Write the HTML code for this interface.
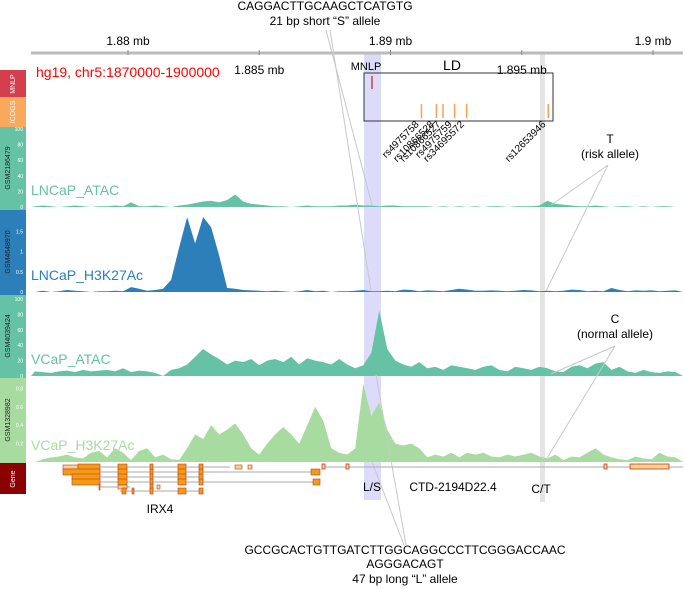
<!DOCTYPE html>
<html><head><meta charset="utf-8"><style>
body{margin:0;background:#fff}
svg{display:block;font-family:"Liberation Sans",sans-serif}
</style></head><body>
<svg id="c" width="685" height="589" viewBox="0 0 685 589">
<g>
<rect x="364" y="53" width="17" height="447" fill="#dcdcfa"/>
<rect x="540" y="53" width="5" height="449" fill="#e4e4e4"/>
</g>
<g id="axis">
<line x1="31" y1="53" x2="683" y2="53" stroke="#bbb" stroke-width="3"/>
</g>
<g>
<rect x="0" y="70" width="26" height="27" fill="#d43f4e"/>
<rect x="0" y="97" width="26" height="30" fill="#f9a85c"/>
<rect x="0" y="127" width="26" height="83" fill="#66c2a5"/>
<rect x="0" y="210" width="26" height="85" fill="#2c7fb8"/>
<rect x="0" y="295" width="26" height="83" fill="#66c2a5"/>
<rect x="0" y="378" width="26" height="85" fill="#a8dba0"/>
<rect x="0" y="463" width="26" height="31" fill="#8b0000"/>
<g font-size="7" text-anchor="middle">
<text transform="translate(15,84) rotate(-90)" fill="#fff">MNLP</text>
<text transform="translate(15,112) rotate(-90)" fill="#fff">ICOGS</text>
<text transform="translate(10,168) rotate(-90)" fill="#222">GSM2186479</text>
<text transform="translate(10,252) rotate(-90)" fill="#222">GSM4648970</text>
<text transform="translate(10,336) rotate(-90)" fill="#222">GSM4039424</text>
<text transform="translate(10,420) rotate(-90)" fill="#222">GSM1328982</text>
<text transform="translate(15,479) rotate(-90)" fill="#fff">Gene</text>
</g>
</g>
<g id="tracks"></g>
<text x="36" y="77" font-size="14" fill="#f00">hg19, chr5:1870000-1900000</text>
<g>
<rect x="364" y="73" width="189" height="48" fill="none" stroke="#333" stroke-width="1"/>
<text x="452" y="70" font-size="14" text-anchor="middle" fill="#000">LD</text>
<text x="366" y="70" font-size="11" text-anchor="middle" fill="#000">MNLP</text>
<line x1="372" y1="76" x2="372" y2="89" stroke="#c9697a" stroke-width="2"/>
</g>
<g id="snps"></g>
<g font-size="12" fill="#000">
<text x="325" y="10" text-anchor="middle">CAGGACTTGCAAGCTCATGTG</text>
<text x="325" y="25" text-anchor="middle">21 bp short “S” allele</text>
<text x="405" y="554" text-anchor="middle">GCCGCACTGTTGATCTTGGCAGGCCCTTCGGGACCAAC</text>
<text x="405" y="568" text-anchor="middle">AGGGACAGT</text>
<text x="405" y="583" text-anchor="middle">47 bp long “L” allele</text>
<text x="610" y="143" text-anchor="middle">T</text>
<text x="610" y="158" text-anchor="middle">(risk allele)</text>
<text x="615" y="323" text-anchor="middle">C</text>
<text x="615" y="338" text-anchor="middle">(normal allele)</text>
<text x="160" y="513" text-anchor="middle">IRX4</text>
<text x="372" y="491" text-anchor="middle">L/S</text>
<text x="453" y="491" text-anchor="middle">CTD-2194D22.4</text>
<text x="541" y="493" text-anchor="middle">C/T</text>
</g>
<g stroke="#c8c8c8" stroke-width="1" fill="none">
<line x1="326" y1="30" x2="372" y2="205"/><line x1="330" y1="30" x2="371" y2="291"/>
<line x1="406" y1="545" x2="376" y2="375"/><line x1="404" y1="545" x2="372" y2="462"/>
<line x1="608" y1="165" x2="551" y2="205"/><line x1="608" y1="165" x2="546" y2="291"/>
<line x1="615" y1="346" x2="551" y2="374"/><line x1="615" y1="346" x2="546" y2="460"/>
</g>
<g id="genes"></g>
<script>
const ticks=["1.88 mb","1.885 mb","1.89 mb","1.895 mb","1.9 mb"];
const tickPos=[1880000,1885000,1890000,1895000,1900000];
const snpIds=["rs4975758","rs10866528","rs10866527","rs4975759","rs34695572","rs12653946"];
const snpPos=[1891180,1891750,1892000,1892440,1892900,1896010];
const binStart=1876000;
const binSize=305;
const lncapAtac=[2,1,2,1,0,1,2,1,0,1,1,2,1,6,1,1,2,1,0,2,3,5,7,8,6,9,16,7,4,3,2,1,1,0,1,2,1,1,1,2,2,3,2,2,1,2,2,1,1,1,1,0,1,0,1,0,1,0,1,1,0,1,1,1,2,8,4,3,2,1,1,2,1,0,1,1,0,1,0,1,1,0];
const lncapK27=[0.02,0,0.03,0,0.02,0.05,0.03,0.02,0,0.02,0.02,0.03,0.02,0.12,0.08,0.03,0.05,0.08,0.3,1.1,1.85,1.2,1.85,1.6,0.9,0.1,0.08,0.05,0.04,0.03,0.02,0.03,0.02,0,0.02,0.05,0.02,0.03,0,0.02,0.02,0.03,0.05,0.02,0.02,0.03,0.02,0.06,0.05,0.02,0.04,0.03,0.02,0.05,0.08,0.06,0.03,0.03,0.04,0.03,0.02,0.03,0.05,0.04,0.02,0.03,0.02,0.03,0.06,0.05,0.02,0.03,0.02,0.1,0.05,0.02,0.04,0.03,0.04,0.02,0.03,0.04];
const vcapAtac=[5,6,5,4,6,7,5,8,6,7,8,6,10,5,7,6,4,0,8,10,15,25,35,28,22,15,20,18,22,14,20,22,18,25,15,23,20,18,15,22,15,10,14,30,85,35,20,15,12,18,10,12,8,14,12,10,8,12,14,8,6,12,10,8,12,10,6,5,12,14,10,16,18,8,12,6,4,8,5,4,6,5];
const vcapK27=[0.02,0,0.03,0.05,0.06,0.08,0.05,0.04,0.1,0.12,0.05,0.15,0.1,0.02,0.12,0.15,0.05,0.08,0.03,0.02,0.15,0.3,0.25,0.4,0.3,0.35,0.42,0.3,0.15,0.08,0.2,0.3,0.38,0.3,0.2,0.4,0.6,0.45,0.15,0.1,0.08,0.15,0.85,0.5,0.65,0.35,0.2,0.18,0.2,0.15,0.05,0.08,0.06,0.1,0.05,0.1,0.08,0.1,0.06,0.05,0.08,0.06,0.08,0.1,0.06,0.04,0.08,0.02,0.06,0.05,0.1,0.15,0.08,0.05,0.03,0.02,0.06,0.04,0.03,0.1,0.06,0.05];
const NS="http://www.w3.org/2000/svg";
const X=p=>128+(p-1880000)*0.02625;
function mk(tag,attrs,parent){const e=document.createElementNS(NS,tag);for(const k in attrs)e.setAttribute(k,attrs[k]);parent.appendChild(e);return e;}
const axis=document.getElementById('axis');
tickPos.forEach((p,i)=>{
  const tk=mk('line',{x1:X(p),y1:50,x2:X(p),y2:55,stroke:'#888'},axis);
  
  
  const t=mk('text',{x:X(p),y:(i%2?74:45),'font-size':12,'text-anchor':'middle',fill:'#000'},axis);
  t.textContent=ticks[i];
  
  
});
const snps=document.getElementById('snps');
snpIds.forEach((id,i)=>{
  const x=X(snpPos[i]);
  const m=mk('line',{x1:x,y1:104,x2:x,y2:118,stroke:'#f5a25a','stroke-width':1.5},snps);
  
  
  const t=mk('text',{transform:`translate(${x-2},${125}) rotate(-45)`,'font-size':10,'text-anchor':'end',fill:'#000'},snps);
  t.textContent=id;
  
  
});
const tracks=document.getElementById('tracks');
function track(vals,y0,scale,color,name,label,ticksV){
  const g=mk('g',{},tracks);
  
  
  let d=`M31,${y0}`;
  vals.forEach((v,i)=>{const x=X(binStart+(i+0.5)*binSize);if(x<31||x>683)return;d+=`L${x},${y0-v*scale}`;});
  d+=`L683,${y0}Z`;
  const p=mk('path',{d:d,fill:color,stroke:'none'},g);
  
  
  ticksV.forEach(v=>{const t=mk('text',{x:23,y:y0-v*scale+2,'font-size':5,'text-anchor':'end',fill:'#fff'},g);t.textContent=v;
    
    });
  const t=mk('text',{x:31,y:y0-12,'font-size':14,fill:color},g);t.textContent=label;
  
  
}
track(lncapAtac,207,0.78,'#66c2a5','lncap-atac','LNCaP_ATAC',[0,20,40,60,80,100]);
track(lncapK27,292,40.5,'#2c7fb8','lncap-h3k27ac','LNCaP_H3K27Ac',[0,0.5,1,1.5]);
track(vcapAtac,376,0.77,'#66c2a5','vcap-atac','VCaP_ATAC',[0,20,40,60,80,100]);
track(vcapK27,462,92,'#a8dba0','vcap-h3k27ac','VCaP_H3K27Ac',[0.2,0.4,0.6,0.8]);
const genes=document.getElementById('genes');
const rowY=[467,472,477,482,487,491];
const rowSpan=[[63,230],[63,320],[72,200],[72,320],[99,130],[120,203]];
const exons=[[[63,78,.5],[78,100,1],[118,127,1],[150,153,1],[178,186,1],[199,203,1],[235,242,.5],[248,252,.5]],
[[63,100,1],[118,127,1],[150,153,1],[178,186,1],[199,203,1],[311,320,1]],
[[72,100,1],[118,127,1],[150,153,1],[178,186,1],[199,203,1]],
[[72,100,1],[118,127,1],[150,153,1],[178,186,1],[199,203,1],[313,320,1]],
[[99,100,1],[118,127,.5],[150,153,1],[157,160,.5]],
[[122,126,1],[132,134,1],[150,153,1],[178,186,1],[199,203,1]]];
rowY.forEach((y,r)=>{
  const l=mk('line',{x1:rowSpan[r][0],y1:y,x2:rowSpan[r][1],y2:y,stroke:'#aaa'},genes);
  
  
  exons[r].forEach(e=>{const h=e[2]===1?6:4;const b=mk('rect',{x:e[0],y:y-h/2,width:e[1]-e[0],height:h,fill:e[2]===1?'#f39c12':'#fbd38a',stroke:'#c0392b','stroke-width':0.6},genes);
    
    });
});
const ctd=mk('line',{x1:323,y1:467,x2:683,y2:467,stroke:'#aaa'},genes);


[[322,325,'#fbd38a'],[346,349,'#fbd38a'],[604,607,'#fbd38a'],[630,669,'#fbd38a']].forEach(e=>{const b=mk('rect',{x:e[0],y:464,width:e[1]-e[0],height:5,fill:e[2],stroke:'#c0392b','stroke-width':0.8},genes);
  
  });
</script>
</svg>
</body></html>
